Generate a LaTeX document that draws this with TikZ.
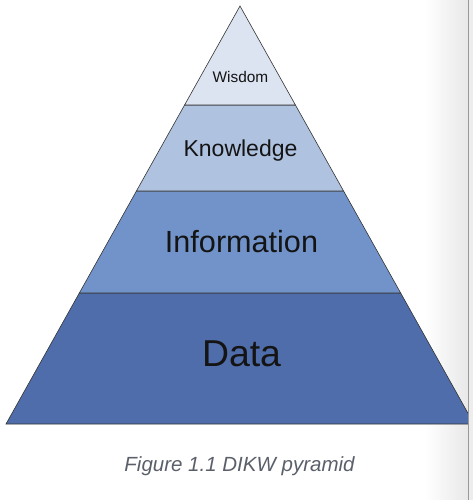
\documentclass[tikz,border=0pt]{standalone}
\usepackage{fontspec}
\setmainfont{Liberation Sans}
\usetikzlibrary{calc}
\definecolor{wisdomfill}{HTML}{DCE4F1}
\definecolor{knowfill}{HTML}{AFC2E0}
\definecolor{infofill}{HTML}{7193C9}
\definecolor{datafill}{HTML}{4F6DAA}
\definecolor{captiongray}{HTML}{5A5F6A}
\begin{document}
\begin{tikzpicture}[x=1pt, y=-1pt,
  layer/.style={draw=black!80, line width=0.6pt, line join=miter},
  layertext/.style={text=black!92, anchor=base, inner sep=0pt}
]
\useasboundingbox (0,0) rectangle (473,500);
\shade[left color=white, right color=black!9] (425,0) rectangle (468,500);
\fill[black!7] (468,0) rectangle (473,500);

\coordinate (apex) at (240,6);
\coordinate (bl) at (6,424);
\coordinate (br) at (474,424);
\coordinate (wl) at ($(apex)!0.2368!(bl)$);
\coordinate (wr) at ($(apex)!0.2368!(br)$);
\coordinate (kl) at ($(apex)!0.4426!(bl)$);
\coordinate (kr) at ($(apex)!0.4426!(br)$);
\coordinate (il) at ($(apex)!0.6866!(bl)$);
\coordinate (ir) at ($(apex)!0.6866!(br)$);

\begin{scope}
\clip (0,0) rectangle (468,500);
\filldraw[layer, fill=datafill] (il) -- (ir) -- (br) -- (bl) -- cycle;
\filldraw[layer, fill=infofill] (kl) -- (kr) -- (ir) -- (il) -- cycle;
\filldraw[layer, fill=knowfill] (wl) -- (wr) -- (kr) -- (kl) -- cycle;
\filldraw[layer, fill=wisdomfill] (apex) -- (wr) -- (wl) -- cycle;
\end{scope}
\draw[black!40, line width=0.8pt] (468,0) -- (468,500);

\node[layertext, font=\fontsize{15.4}{18}\selectfont] (wisdom) at (240.5,83) {Wisdom};
\node[layertext, font=\fontsize{23}{27}\selectfont] (knowledge) at (240.5,156) {Knowledge};
\node[layertext, font=\fontsize{30.6}{36}\selectfont] (information) at (241.5,252) {Information};
\node[layertext, font=\fontsize{37.4}{44}\selectfont] (data) at (241.5,366) {Data};
\node[anchor=base, inner sep=0pt, text=captiongray, font=\fontsize{20.5}{24}\selectfont\itshape] (caption) at (239.5,471) {Figure 1.1 DIKW pyramid};
\end{tikzpicture}
\end{document}
